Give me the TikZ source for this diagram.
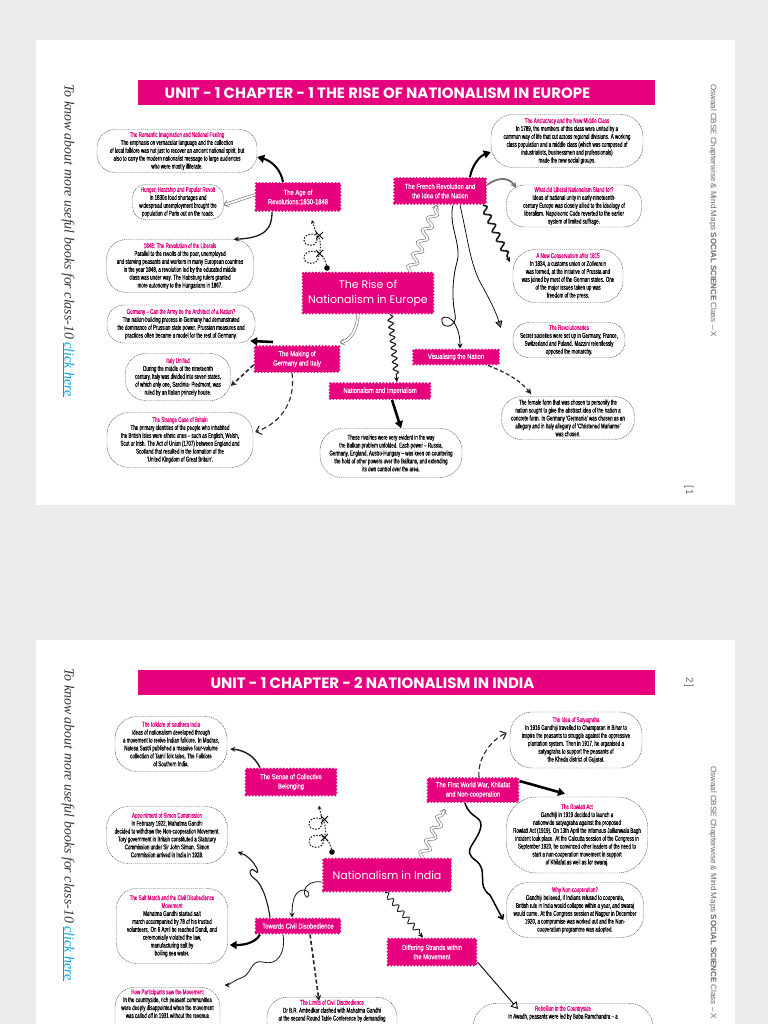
\documentclass[tikz,border=0pt]{standalone}
\usepackage{fontspec}
\setmainfont{Liberation Sans}
\newfontfamily\bodyf[FakeStretch=0.64,FakeBold=0.3]{Liberation Sans}
\newfontfamily\nodef[FakeStretch=0.8,FakeBold=0.3]{Liberation Sans}
\newfontfamily\popf{Poppins}
\newfontfamily\serf{Liberation Serif}
\usetikzlibrary{arrows.meta,decorations.pathmorphing,shapes.geometric}
\definecolor{mag}{RGB}{230,0,126}
\definecolor{bgg}{RGB}{236,236,236}
\definecolor{linkc}{RGB}{0,160,220}
\tikzset{
 pn/.style={fill=mag, draw=mag, line width=3pt, dash pattern=on 0pt off 3.3pt, line cap=round, text=white, font={\nodef\fontsize{7.3}{9.3}\selectfont}, align=center, inner sep=0pt},
 tb/.style={fill=white, draw=black!70, line width=0.45pt, dash pattern=on 1.1pt off 0.8pt, rounded corners=15pt, font={\bodyf\fontsize{7}{7.9}\selectfont}, align=center, inner sep=0pt, text=black},
 tt/.style={font={\bodyf\fontsize{7}{7.9}\selectfont}, align=center, inner sep=0pt, text=black, anchor=north},
 bk/.style={draw=black!90, line width=1pt, -{Stealth[length=5pt,width=5pt]}},
 thk/.style={draw=black, line width=2.4pt, -{Triangle[length=7pt,width=8pt]}},
 hol/.style={draw=black!55, double=white, double distance=1.8pt, line width=0.6pt, -{Straight Barb[length=4pt,width=7pt]}},
 dsh/.style={draw=black!85, line width=1.2pt, dash pattern=on 4pt off 2.5pt, -{Stealth[length=6pt,width=6pt]}},
 dtt/.style={draw=black!85, line width=1.1pt, dash pattern=on 1.5pt off 1.5pt, -{Stealth[length=4pt,width=4pt]}},
 wav/.style={decorate, decoration={snake, amplitude=4pt, segment length=13pt, post length=5pt}},
 mainn/.style={pn, font={\popf\fontsize{11}{14.5}\selectfont}},
}
\begin{document}
\begin{tikzpicture}[x=1pt,y=-1pt]
\useasboundingbox (0,0) rectangle (768,1024);
\fill[bgg] (0,0) rectangle (768,1024);
\fill[white] (36,40) rectangle (735,505);
\fill[white] (36,640) rectangle (735,1024);

% ---------- side texts ----------
\node[rotate=-90, anchor=west, font={\serf\itshape\fontsize{13.9}{14}\selectfont}, text=black!80, inner sep=0] (side1) at (68,84) {To know about more useful books for class-10 \textcolor{linkc}{\underline{click here}}};
\node[rotate=-90, anchor=west, font={\serf\itshape\fontsize{13.9}{14}\selectfont}, text=black!80, inner sep=0] (side2) at (68,668) {To know about more useful books for class-10 \textcolor{linkc}{\underline{click here}}};
\node[rotate=-90, anchor=west, font={\fontsize{8}{8}\selectfont}, text=black!60, inner sep=0] (osw1) at (713,84) {Oswaal CBSE Chapterwise \& Mind Maps \textbf{SOCIAL SCIENCE} Class – X};
\node[rotate=-90, anchor=west, font={\fontsize{8}{8}\selectfont}, text=black!60, inner sep=0] (osw2) at (713,766) {Oswaal CBSE Chapterwise \& Mind Maps \textbf{SOCIAL SCIENCE} Class – X};
\node[rotate=-90, font={\fontsize{10}{10}\selectfont}, text=black!60, inner sep=0] (pg1) at (689,490) {[\,1};
\node[rotate=-90, font={\fontsize{10}{10}\selectfont}, text=black!60, inner sep=0] (pg2) at (689,682) {2\,]};

% ---------- page 1 ----------
\node[fill=mag, minimum width=517pt, minimum height=25pt, inner sep=0] (ban1) at (396.5,92.5) {};
\node[text=white, font={\popf\bfseries\fontsize{15}{15}\selectfont}, inner sep=0] (ban1t) at (377.5,93) {UNIT - 1 CHAPTER - 1 THE RISE OF NATIONALISM IN EUROPE};

\node[pn, minimum width=84pt, minimum height=27pt] (age) at (298,197) {The Age of\\Revolutions:1830-1848};
\node[pn, minimum width=91pt, minimum height=25pt] (fre) at (440,191) {The French Revolution and\\the Idea of the Nation};
\node[mainn, minimum width=130pt, minimum height=40pt] (rise) at (368,293) {The Rise of\\Nationalism in Europe};
\node[pn, minimum width=84pt, minimum height=25pt] (mak) at (297,359) {The Making of\\Germany and Italy};
\node[pn, minimum width=100pt, minimum height=15pt] (imp) at (380,391) {Nationalism and Imperialism};
\node[pn, minimum width=85pt, minimum height=14pt] (vis) at (456,357) {Visualising the Nation};

\node[tb, minimum width=160pt, minimum height=43pt, rounded corners=18pt] (rom) at (177,151) {\textcolor{mag}{The Romantic Imagination and National Feeling}\\The emphasis on vernacular language and the collection\\of local folklore was not just to recover an ancient national spirit, but\\also to carry the modern nationalist message to large audiences\\who were mostly illiterate.};
\node[tb, minimum width=91pt, minimum height=35pt, rounded corners=13pt] (hun) at (178,202) {\textcolor{mag}{Hunger, Hardship and Popular Revolt}\\In 1830s food shortages and\\widespread unemployment brought the\\population of Paris out on the roads.};
\node[tb, minimum width=147pt, minimum height=53pt, rounded corners=20pt] (lib) at (180,266) {\textcolor{mag}{1848: The Revolution of the Liberals}\\Parallel to the revolts of the poor, unemployed\\and starving peasants and workers in many European countries\\in the year 1848, a revolution led by the educated middle\\class was under way. The Habsburg rulers granted\\more autonomy to the Hungarians in 1867.};
\node[tb, minimum width=148pt, minimum height=38pt, rounded corners=17pt] (ger) at (181,324) {\textcolor{mag}{Germany – Can the Army be the Architect of a Nation?}\\The nation-building process in Germany had demonstrated\\the dominance of Prussian state power. Prussian measures and\\practices often became a model for the rest of Germany.};
\node[tb, minimum width=105pt, minimum height=47pt, rounded corners=20pt] (ita) at (178,377) {\textcolor{mag}{Italy Unified}\\During the middle of the nineteenth\\century, Italy was divided into seven states,\\of which only one, Sardinia- Piedmont, was\\ruled by an Italian princely house.};
\node[tb, minimum width=146pt, minimum height=55pt, rounded corners=22pt] (bri) at (180,440) {\textcolor{mag}{The Strange Case of Britain}\\The primary identities of the people who inhabited\\the British Isles were ethnic ones – such as English, Welsh,\\Scot or Irish. The Act of Union (1707) between England and\\Scotland that resulted in the formation of the\\‘United Kingdom of Great Britain’.};
\node[tb, minimum width=152pt, minimum height=53pt, rounded corners=22pt] (ari) at (567,141) {\textcolor{mag}{The Aristocracy and the New Middle Class}\\In 1789, the members of this class were united by a\\common way of life that cut across regional divisions. A working\\class population and a middle class (which was composed of\\industrialists, businessmen and professionals)\\made the new social groups.};
\node[tb, minimum width=135pt, minimum height=42pt, rounded corners=18pt] (lnat) at (574,206) {\textcolor{mag}{What did Liberal Nationalism Stand for?}\\Ideas of national unity in early-nineteenth-\\century Europe was closely allied to the ideology of\\liberalism. Napoleonic Code reverted to the earlier\\system of limited suffrage.};
\node[tb, minimum width=110pt, minimum height=53pt, rounded corners=22pt] (cons) at (568,276) {\textcolor{mag}{A New Conservatism after 1815}\\In 1834, a customs union or Zollverein\\was formed, at the initiative of Prussia and\\was joined by most of the German states. One\\of the major issues taken up was\\freedom of the press.};
\node[tb, minimum width=112pt, minimum height=35pt, rounded corners=16pt] (revo) at (569,340) {\textcolor{mag}{The Revolutionaries}\\Secret societies were set up in Germany, France,\\Switzerland and Poland. Mazzini relentlessly\\opposed the monarchy.};
\node[tb, minimum width=133pt, minimum height=43pt, rounded corners=20pt] (fem) at (568,418) {The female form that was chosen to personify the\\nation sought to give the abstract idea of the nation a\\concrete form. In Germany ‘Germania’ was chosen as an\\allegory and in Italy allegory of ‘Christened Marianne’\\was chosen.};
\node[tb, minimum width=142pt, minimum height=49pt, rounded corners=22pt] (bal) at (391,453) {These rivalries were very evident in the way\\the Balkan problem unfolded. Each power – Russia,\\Germany, England, Austro-Hungary – was keen on countering\\the hold of other powers over the Balkans, and extending\\its own control over the area.};

% arrows page 1
\draw[thk, line width=2pt] ([xshift=-15pt]age.north) .. controls (281,170) and (272,161) .. ([yshift=-6pt]rom.east);
\draw[hol] ([yshift=2pt]age.west) -- ([yshift=-3pt]hun.east);
\draw[bk, line width=1.3pt] ([xshift=-26pt]age.south) .. controls (272,228) and (266,238) .. ([xshift=-20pt]lib.north east);
\coordinate (d1) at (327,268);
\fill[black] (d1) circle (2.8);
\draw[dtt] (d1) .. controls (326,261) and (324,257) .. (320,254) .. controls (316,250) and (305,250) .. (304,257) .. controls (303,264) and (316,266) .. (318,259) .. controls (320,252) and (322,245) .. (319,238) .. controls (316,232) and (304,233) .. (304,240) .. controls (304,247) and (316,247) .. (317,241) .. controls (318,235) and (314,228) .. ([xshift=14pt,yshift=-8pt]age.south);
\draw[line width=0.9pt] (316,250)--(323,257) (316,257)--(323,250) (316,232)--(323,239) (316,239)--(323,232);
\draw[thk, line width=2.6pt] ([xshift=-24pt,yshift=3pt]mak.north) -- ([xshift=-5pt,yshift=-17pt]ger.east);
\draw[dsh, line width=1.6pt] ([yshift=-6pt]mak.west) -- ([yshift=-9pt]ita.east);
\draw[draw=black!85, line width=1.1pt, dash pattern=on 5pt off 3pt, -{Straight Barb[length=5pt,width=9pt]}] ([xshift=-5pt]mak.south) .. controls (296,405) and (278,424) .. ([xshift=2pt,yshift=8pt]bri.east);
\draw[hol] ([xshift=-10pt]rise.south) .. controls (357,330) and (351,340) .. ([xshift=43pt,yshift=2pt]mak.north);
\draw[bk, line width=1.1pt, decorate, decoration={snake, amplitude=2.5pt, segment length=7pt, post length=5pt}] ([xshift=22pt]rise.south) -- ([xshift=17pt]imp.north);
\draw[hol, wav] ([xshift=42pt]rise.north) -- ([xshift=-3pt]fre.south);
\draw[thk, line width=2pt] ([xshift=30pt]fre.north) .. controls (472,165) and (480,156) .. ([yshift=-11pt]ari.west);
\draw[draw=black!55, line width=1.8pt, -{Stealth[length=6pt,width=6pt]}] ([yshift=6pt]fre.east) .. controls (496,178) and (508,176) .. ([yshift=18pt,xshift=10pt]lnat.west);
\draw[bk, line width=1.6pt, decorate, decoration={snake, amplitude=3pt, segment length=10pt, post length=6pt}] ([xshift=43pt]fre.south) -- ([xshift=-3pt,yshift=14pt]cons.west);
\draw[line width=0.7pt, -{Triangle[fill=black!55, length=7pt, width=7pt]}] ([xshift=20pt]fre.south) .. controls (468,240) and (470,262) .. (480,282) .. controls (490,300) and (496,312) .. ([yshift=12pt,xshift=-12pt]revo.west);
\draw[line width=0.8pt, -{Stealth[length=5pt,width=5pt]}] ([xshift=13pt]fre.south) .. controls (448,225) and (462,245) .. (457,262) .. controls (452,280) and (452,300) .. (455,314) .. controls (458,326) and (444,330) .. (442,322) .. controls (440,314) and (452,316) .. (456,326) .. controls (459,332) and (460,338) .. ([xshift=4pt]vis.north);
\draw[dsh] ([xshift=32pt]vis.south) .. controls (505,372) and (520,380) .. ([xshift=30pt,yshift=2pt]fem.north west);
\draw[thk, line width=2.6pt] ([xshift=12pt]imp.south) -- ([xshift=10pt]bal.north);

% ---------- page 2 ----------
\node[fill=mag, minimum width=517pt, minimum height=25pt, inner sep=0] (ban2) at (396.5,682) {};
\node[text=white, font={\popf\bfseries\fontsize{15}{15}\selectfont}, inner sep=0] (ban2t) at (372.5,682.5) {UNIT - 1 CHAPTER - 2 NATIONALISM IN INDIA};

\node[pn, minimum width=90pt, minimum height=26pt] (sen) at (291,782) {The Sense of Collective\\Belonging};
\node[pn, minimum width=90pt, minimum height=23pt] (fww) at (473,790) {The First World War, Khilafat\\and Non-cooperation};
\node[mainn, minimum width=127pt, minimum height=32pt] (nii) at (387,875) {Nationalism in India};
\node[pn, minimum width=84pt, minimum height=14pt] (tcd) at (298,926) {Towards Civil Disobedience};
\node[pn, minimum width=88pt, minimum height=26pt] (dsm) at (432,952) {Differing Strands within\\the Movement};

\node[tb, minimum width=112pt, minimum height=55pt, rounded corners=22pt] (folk) at (171,744) {\textcolor{mag}{The folklore of southern India}\\Ideas of nationalism developed through\\a movement to revive Indian folklore. In Madras,\\Natesa Sastri published a massive four-volume\\collection of Tamil folk tales, The Folklore\\of Southern India.};
\node[tb, minimum width=121pt, minimum height=57pt, rounded corners=22pt] (sim) at (167,835) {\textcolor{mag}{Appointment of Simon Commission}\\In February 1922, Mahatma Gandhi\\decided to withdraw the Non-cooperation Movement.\\Tory government in Britain constituted a Statutory\\Commission under Sir John Simon. Simon\\Commission arrived in India in 1928.};
\node[tb, minimum width=111pt, minimum height=75pt, rounded corners=20pt] (salt) at (172,926) {\textcolor{mag}{The Salt March and the Civil Disobedience}\\\textcolor{mag}{Movement}\\Mahatma Gandhi started salt\\march accompanied by 78 of his trusted\\volunteers. On 6 April he reached Dandi, and\\ceremonially violated the law,\\manufacturing salt by\\boiling sea water.};
\node[tb, minimum width=132pt, minimum height=56pt, rounded corners=22pt] (sat) at (576,740) {\textcolor{mag}{The Idea of Satyagraha}\\In 1916 Gandhiji travelled to Champaran in Bihar to\\inspire the peasants to struggle against the oppressive\\plantation system. Then in 1917, he organised a\\satyagraha to support the peasants of\\the Kheda district of Gujarat.};
\node[tb, minimum width=141pt, minimum height=76pt, rounded corners=30pt] (row) at (577,835) {\textcolor{mag}{The Rowlatt Act}\\Gandhiji in 1919 decided to launch a\\nationwide satyagraha against the proposed\\Rowlatt Act (1919). On 13th April the infamous Jallianwala Bagh\\incident took place. At the Calcutta session of the Congress in\\September 1920, he convinced other leaders of the need to\\start a non-cooperation movement in support\\of Khilafat as well as for swaraj.};
\node[tb, minimum width=137pt, minimum height=55pt, rounded corners=22pt] (why) at (575,910) {\textcolor{mag}{Why Non-cooperation?}\\Gandhiji believed, if Indians refused to cooperate,\\British rule in India would collapse within a year, and swaraj\\would come. At the Congress session at Nagpur in December\\1920, a compromise was worked out and the Non-\\cooperation programme was adopted.};
\node[tb, minimum width=105pt, minimum height=60pt, rounded corners=20pt, anchor=north] (hps) at (167.5,987) {};
\node[tt] (hpst) at (167.5,989) {\textcolor{mag}{How Participants saw the Movement}\\In the countryside, rich peasant communities\\were deeply disappointed when the movement\\was called off in 1931 without the revenue};
\node[tb, minimum width=130pt, minimum height=60pt, rounded corners=20pt, anchor=north] (lim) at (332,997) {};
\node[tt] (limt) at (332,999.5) {\textcolor{mag}{The Limits of Civil Disobedience}\\Dr B.R. Ambedkar clashed with Mahatma Gandhi\\at the second Round Table Conference by demanding};
\node[tb, minimum width=180pt, minimum height=60pt, rounded corners=24pt, anchor=north] (reb) at (563,1003) {};
\node[tt] (rebt) at (563,1005.5) {\textcolor{mag}{Rebellion in the Countryside}\\In Awadh, peasants were led by Baba Ramchandra – a};

% arrows page 2
\draw[bk, line width=1.4pt] ([xshift=-31pt]sen.north) .. controls (255,757) and (245,750) .. ([xshift=3pt,yshift=-5pt]folk.east);
\coordinate (d2) at (332,852);
\fill[black] (d2) circle (2.8);
\draw[dtt] (d2) .. controls (331,845) and (329,841) .. (325,838) .. controls (321,834) and (310,834) .. (309,841) .. controls (308,848) and (321,850) .. (323,843) .. controls (325,836) and (327,829) .. (324,822) .. controls (321,816) and (309,817) .. (309,824) .. controls (309,831) and (321,831) .. (322,825) .. controls (323,819) and (320,812) .. ([xshift=28pt,yshift=-9pt]sen.south);
\draw[line width=0.9pt] (321,834)--(328,841) (321,841)--(328,834) (321,816)--(328,823) (321,823)--(328,816);
\draw[bk, line width=1.1pt] ([xshift=-28pt]tcd.north) .. controls (268,903) and (263,885) .. (255,879) .. controls (247,874) and (250,866) .. (255,871) .. controls (262,878) and (255,858) .. ([xshift=10pt,yshift=-17pt]sim.east);
\draw[thk, line width=2.2pt] ([xshift=-38pt]tcd.south) .. controls (256,942) and (246,945) .. ([xshift=2pt,yshift=-19pt]salt.east);
\draw[bk, line width=0.8pt] ([xshift=-15pt]tcd.south) .. controls (286,955) and (276,966) .. (263,962) .. controls (250,959) and (252,975) .. (241,978) .. controls (233,981) and (229,985) .. ([xshift=57pt,yshift=2pt]hps.north);
\draw[bk, line width=0.8pt] ([yshift=-7pt]nii.west) .. controls (310,880) and (302,888) .. (305,895) .. controls (308,902) and (313,890) .. (303,890) .. controls (295,891) and (292,900) .. ([xshift=-6pt]tcd.north);
\draw[dsh, line width=1.6pt] ([xshift=12pt]tcd.south) -- ([xshift=-13pt,yshift=-4pt]lim.north);
\draw[hol, wav] ([xshift=35pt]nii.north) -- ([xshift=-28pt,yshift=-6pt]fww.south);
\draw[draw=black!85, line width=1.1pt, dash pattern=on 5pt off 3pt, -{Straight Barb[length=5pt,width=9pt]}] ([xshift=6pt]fww.north) .. controls (477,760) and (490,740) .. ([yshift=7pt,xshift=-3pt]sat.west);
\draw[thk, line width=2.6pt] ([yshift=9pt]fww.east) -- ([xshift=-12pt,yshift=3pt]row.north);
\draw[line width=1.5pt, -{Straight Barb[length=4pt,width=6pt]}] ([xshift=-8pt]fww.south) .. controls (470,820) and (485,815) .. (480,830) .. controls (475,845) and (462,850) .. (475,860) .. controls (490,870) and (475,885) .. (490,895) -- ([xshift=-3pt,yshift=-10pt]why.west);
\draw[bk, line width=0.9pt, decorate, decoration={snake, amplitude=2.5pt, segment length=8pt, post length=5pt}] ([xshift=-2pt]nii.south) -- ([xshift=-9pt]dsm.north);
\draw[line width=0.9pt, -{Triangle[open, length=7pt, width=8pt]}] ([yshift=-10pt]dsm.east) -- ([xshift=-45pt,yshift=-6pt]reb.north);
\end{tikzpicture}
\end{document}
